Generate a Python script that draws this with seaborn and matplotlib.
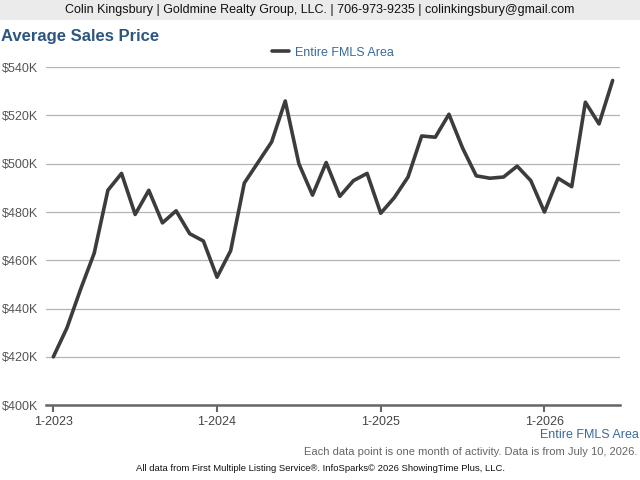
import pandas as pd
import numpy as np
import seaborn as sns
import matplotlib.pyplot as plt
from matplotlib.patches import Rectangle

# Monthly average sales price, Jan 2023 - Jun 2026 (in $K)
months = [f'{m}-{y}' for y in [2023, 2024, 2025, 2026] for m in range(1, 13)][:42]
avg_price = [420, 432, 448, 463, 489, 496, 479, 489, 475.5, 480.5, 471, 468,
             453, 464, 492, 500.5, 509, 526, 500, 487, 500.5, 486.5, 493, 496,
             479.5, 486, 494.5, 511.5, 511, 520.5, 506.5, 495, 494, 494.5, 499, 493,
             480, 494, 490.5, 525.5, 516.5, 534.5]

tick_labels = ['1-2023', '1-2024', '1-2025', '1-2026']
y_ticks = [400, 420, 440, 460, 480, 500, 520, 540]

data = pd.DataFrame({'idx': range(len(months)), 'Month': months, 'Price': avg_price})

sns.set_theme(style='white')
plt.rcParams['font.family'] = ['Liberation Sans', 'DejaVu Sans']

fig = plt.figure(figsize=(6.4, 4.8), dpi=100)
ax = fig.add_axes([0.072, 0.156, 0.897, 0.704])

# Header band
fig.patches.append(Rectangle((0, 0.958), 1, 0.042, transform=fig.transFigure,
                             facecolor='#ebebeb', edgecolor='none', zorder=0))
fig.text(0.5, 0.979, 'Colin Kingsbury | Goldmine Realty Group, LLC. | 706-973-9235 | colinkingsbury@gmail.com',
         ha='center', va='center', fontsize=9, color='#111111')
fig.text(0.002, 0.925, 'Average Sales Price', ha='left', va='center', fontsize=12,
         fontweight='bold', color='#2c5580')

sns.lineplot(data=data, x='idx', y='Price', ax=ax, color='#3c3c3c', linewidth=2.6,
             label='Entire FMLS Area')

ax.set_xlim(-0.53, 41.55)
ax.set_ylim(400, 540)
ax.set_yticks(y_ticks)
ax.set_yticklabels([f'${v}K' for v in y_ticks])
ax.set_xticks([months.index(t) for t in tick_labels])
ax.set_xticklabels(tick_labels)
ax.set_xlabel('')
ax.set_ylabel('')

ax.yaxis.grid(True, color='#b4b4b4', linewidth=0.9)
ax.set_axisbelow(True)
for s in ['left', 'right', 'top']:
    ax.spines[s].set_visible(False)
ax.spines['bottom'].set_color('#666666')
ax.spines['bottom'].set_linewidth(1.8)
ax.tick_params(axis='x', bottom=True, length=5, width=1.5, color='#666666',
               labelsize=9, labelcolor='#444444', pad=3)
ax.tick_params(axis='y', left=False, length=0, labelsize=9, labelcolor='#555555', pad=6)

leg = ax.legend(loc='lower center', bbox_to_anchor=(0.5, 1.01), frameon=False,
                fontsize=9, handlelength=1.3, handletextpad=0.5, borderaxespad=0)
for t in leg.get_texts():
    t.set_color('#3a6a9a')

fig.text(0.998, 0.093, 'Entire FMLS Area', ha='right', va='center', fontsize=9, color='#3a6a9a')
fig.text(0.996, 0.058, 'Each data point is one month of activity. Data is from July 10, 2026.',
         ha='right', va='center', fontsize=8, color='#666666')
fig.text(0.5, 0.023, 'All data from First Multiple Listing Service®. InfoSparks© 2026 ShowingTime Plus, LLC.',
         ha='center', va='center', fontsize=6.8, color='#111111')

fig.savefig('out.png', dpi=100)
